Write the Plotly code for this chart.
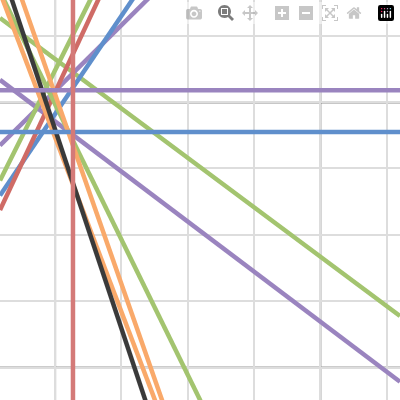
import numpy as np
import plotly.graph_objects as go

x_range = [-0.83, 5.2]
y_range = [-4.49, 1.54]

# sloped lines: y = m*x + b
slopes =     [-0.745, -0.755, 0.99, 1.48, 2.14, 2.0, -2.04, -2.63, -2.86, -3.0]
intercepts = [0.65, -0.29, 0.17, -0.18, 0.15, 0.48, -0.03, -0.53, 0.12, -0.41]
line_colors = ["#a3c46f", "#9a84bf", "#9a84bf", "#5f8fcc", "#cf6b66", "#a3c46f",
               "#a3c46f", "#f9a96a", "#f9a96a", "#3a3a3a"]
h_values = [0.18, -0.45]
h_colors = ["#9a84bf", "#5f8fcc"]
v_values = [0.27]
v_colors = ["#d47a78"]

fig = go.Figure()
xs = np.array(x_range)
for m, b, c in zip(slopes, intercepts, line_colors):
    fig.add_trace(go.Scatter(x=xs, y=m * xs + b, mode="lines",
                             line=dict(color=c, width=4.5), hoverinfo="skip"))
for yv, c in zip(h_values, h_colors):
    fig.add_trace(go.Scatter(x=xs, y=[yv, yv], mode="lines",
                             line=dict(color=c, width=4.5), hoverinfo="skip"))
for xv, c in zip(v_values, v_colors):
    fig.add_trace(go.Scatter(x=[xv, xv], y=y_range, mode="lines",
                             line=dict(color=c, width=4.5), hoverinfo="skip"))

shapes = [
    dict(type="line", xref="x", yref="paper", x0=4, x1=4, y0=0, y1=1,
         line=dict(color="#9a9a9a", width=2), layer="between"),
    dict(type="line", xref="paper", yref="y", x0=0, x1=1, y0=-4, y1=-4,
         line=dict(color="#9a9a9a", width=2), layer="between"),
    dict(type="line", xref="x", yref="paper", x0=0, x1=0, y0=0, y1=1,
         line=dict(color="#222", width=2), layer="between"),
    dict(type="line", xref="paper", yref="y", x0=0, x1=1, y0=0, y1=0,
         line=dict(color="#222", width=2), layer="between"),
]

fig.update_layout(
    width=400, height=400, margin=dict(l=0, r=0, t=0, b=0),
    paper_bgcolor="white", plot_bgcolor="white", showlegend=False,
    shapes=shapes,
    xaxis=dict(range=x_range, dtick=1, tick0=0, showgrid=True, gridcolor="#dddddd",
               gridwidth=1.5, zeroline=False, showticklabels=False, ticks=""),
    yaxis=dict(range=y_range, dtick=1, tick0=0, showgrid=True, gridcolor="#dddddd",
               gridwidth=1.5, zeroline=False, showticklabels=False, ticks=""),
)
fig.write_html("out.html", post_script="document.body.style.margin='0';")
